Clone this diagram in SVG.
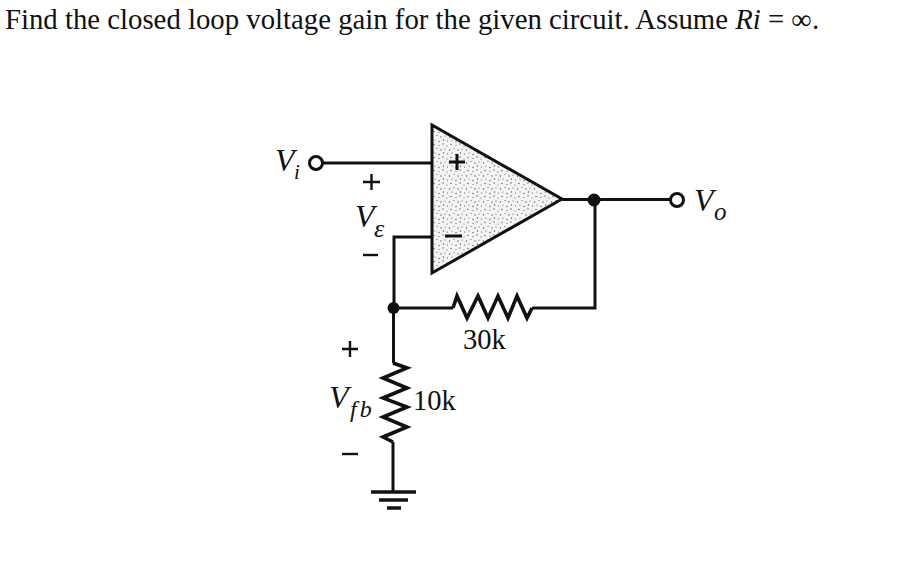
<svg xmlns="http://www.w3.org/2000/svg" width="903" height="571" viewBox="0 0 903 571">
<style>
text{font-family:"Liberation Serif","Times New Roman",serif;fill:#111}
.t{font-size:28.77px}
.v{font-size:28.500px}
.i{font-style:italic}
.w{fill:none;stroke:#111;stroke-width:3;stroke-linejoin:miter}
.r{fill:none;stroke:#111;stroke-width:3.600;stroke-linejoin:miter}
.o{fill:#fff;stroke:#111;stroke-width:3}
.d{fill:#111}
.m{stroke:#111;stroke-width:2.400;fill:none}
</style>
<defs>
<pattern id="stip" width="17" height="13" patternUnits="userSpaceOnUse">
<rect width="17" height="13" fill="#f4f4f4"/>
<g fill="#555">
<circle cx="1" cy="1" r=".7"/><circle cx="5" cy="3" r=".6"/><circle cx="9" cy="1.500" r=".7"/><circle cx="14" cy="2.500" r=".6"/>
<circle cx="3" cy="6" r=".6"/><circle cx="7.500" cy="7" r=".7"/><circle cx="12" cy="5.500" r=".6"/><circle cx="16" cy="7" r=".7"/>
<circle cx="1.500" cy="10" r=".7"/><circle cx="5.500" cy="11" r=".6"/><circle cx="10" cy="10" r=".6"/><circle cx="14" cy="11.500" r=".7"/>
</g>
</pattern>
</defs>
<text class="t" x="5" y="29">Find the closed loop voltage gain for the given circuit. Assume <tspan class="i">Ri</tspan> = ∞.</text>
<g id="connectors">
<path class="w" d="M323 163H432"/>
<path class="w" d="M432 237H394V308"/>
<path class="w" d="M394 308H453"/>
<path class="w" d="M532 308H595V200"/>
<path class="w" d="M562 199.500H670"/>
<path class="w" d="M393.500 308V363"/>
<path class="w" d="M393 442V492"/>
</g>
<g id="opamp">
<path d="M432 125L562 199L432 273Z" fill="url(#stip)" stroke="#111" stroke-width="3"/>
<path class="m" style="stroke-width:3" d="M449 162H465M457 154V170"/>
<path class="m" style="stroke-width:3" d="M445 236H462"/>
</g>
<g id="r30k">
<path class="r" d="M453 308L457 296L467 318L478 296L488 318L498 296L508 318L517 296L527 318L532 308"/>
<text class="v" x="463" y="349">30k</text>
</g>
<g id="r10k">
<path class="r" d="M393 363L407 368L383 378L407 388L383 398L407 407L383 417L407 427L383 437L393 442"/>
<text class="v" x="413" y="410">10k</text>
</g>
<g id="ground">
<path stroke="#111" fill="none" stroke-width="3.500" d="M371 492H416M379 500H408M387 508H401"/>
</g>
<g id="node-vi">
<circle class="o" cx="316" cy="163" r="6.500"/>
<text class="i" font-size="32" x="275" y="171">V</text>
<text class="i" font-size="21" x="294" y="179">i</text>
</g>
<g id="node-ve">
<path class="m" d="M363 182H380M371.500 174V190"/>
<text class="i" font-size="32" x="355" y="227">V</text>
<text class="i" font-size="26" x="374" y="237">ε</text>
<path class="m" d="M363 255H378"/>
</g>
<g id="node-vfb">
<path class="m" d="M342 349H358M350 341V357"/>
<text class="i" font-size="32" x="329" y="408">V</text>
<text class="i" font-size="24" letter-spacing="3" x="350" y="417">fb</text>
<path class="m" d="M342 454H358"/>
</g>
<g id="node-vo">
<circle class="o" cx="677" cy="200" r="6.500"/>
<text class="i" font-size="32" x="694" y="211">V</text>
<text class="i" font-size="25" x="714" y="220">o</text>
</g>
<g id="junctions">
<circle class="d" cx="393.500" cy="308" r="6"/>
<circle class="d" cx="594" cy="200" r="6.500"/>
</g>
</svg>
